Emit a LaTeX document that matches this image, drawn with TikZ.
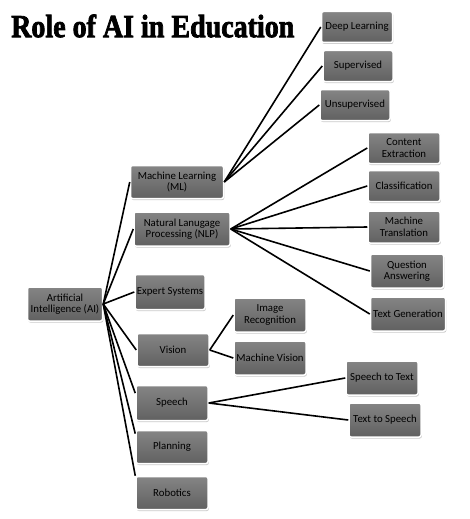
\documentclass[tikz,border=0pt]{standalone}
\usepackage{fontspec}
\usepackage{graphicx}
\setsansfont{Carlito}
\newfontfamily\titlefont[BoldFeatures={FakeBold=2.5}]{Liberation Serif}
\usetikzlibrary{positioning,
        shadows}

\begin{document}
\begin{tikzpicture}[x=1pt,y=-1pt,
        topic/.style={rectangle,draw=white,line width=1.5pt,rounded corners=2pt,
                top color=black!48,bottom color=black!62,text=black,
                font=\sffamily\fontsize{10.8}{11.5}\selectfont,align=center,
                minimum width=72pt,minimum height=33pt,inner sep=0.5pt,
                drop shadow={shadow xshift=0.8pt,shadow yshift=-1.5pt,fill=black!35,opacity=0.6}},
        link/.style={line width=1.6pt}]
            \useasboundingbox (0,0) rectangle (470,519);
            \node [anchor=west,inner sep=0pt,font=\titlefont\bfseries\fontsize{28}{30}\selectfont] (title) at (11,26) {\scalebox{1}[1.15]{Role of AI in Education}};

            \node [topic,minimum width=75pt,minimum height=34pt] (AI) at (65,304) {Artificial\\Intelligence (AI)};

            \node [topic,minimum width=93pt] (ML) at (177,182) {Machine Learning\\(ML)};
            \node [topic,minimum width=96pt,minimum height=34pt] (NLP) at (182,229) {Natural Lanugage\\Processing (NLP)};
            \node [topic,minimum width=70pt,minimum height=35pt] (ES) at (170,292) {Expert Systems};
            \node [topic] (Vis) at (173,350) {Vision};
            \node [topic,minimum height=35pt] (Sp) at (172,403) {Speech};
            \node [topic] (Plan) at (172,447) {Planning};
            \node [topic] (Rob) at (172,493) {Robotics};

            \node [topic,minimum width=71pt,minimum height=31pt] (DL) at (357,27) {Deep Learning};
            \node [topic,minimum width=70pt,minimum height=31pt] (Sup) at (358,66) {Supervised};
            \node [topic,minimum width=70pt,minimum height=31pt] (Unsup) at (355,105) {Unsupervised};

            \node [topic,minimum height=31pt] (CE) at (404,148) {Content\\Extraction};
            \node [topic,minimum height=31pt] (Cls) at (404,186) {Classification};
            \node [topic,minimum height=32pt] (MT) at (404,227) {Machine\\Translation};
            \node [topic,minimum width=73pt,minimum height=34pt] (QA) at (407,271) {Question\\Answering};
            \node [topic,minimum width=75pt,minimum height=34pt] (TG) at (408,314) {Text Generation};

            \node [topic,minimum height=34pt] (IR) at (270,315) {Image\\Recognition};
            \node [topic,minimum height=34pt] (MV) at (270,358) {Machine Vision};

            \node [topic,minimum height=34pt] (STT) at (382,378) {Speech to Text};
            \node [topic,minimum height=34pt] (TTS) at (385,420) {Text to Speech};

            \draw [link] (AI.east) -- (ML.west);
            \draw [link] (AI.east) -- (NLP.west);
            \draw [link] (AI.east) -- (ES.west);
            \draw [link] (AI.east) -- (Vis.west);
            \draw [link] (AI.east) -- (Sp.165);
            \draw [link] (AI.east) -- (Plan.160);
            \draw [link] (AI.east) -- (Rob.north west);
            \draw [link] (ML.east) -- (DL.west);
            \draw [link] (ML.east) -- (Sup.west);
            \draw [link] (ML.east) -- (Unsup.west);
            \draw [link] (NLP.east) -- (CE.west);
            \draw [link] (NLP.east) -- (Cls.west);
            \draw [link] (NLP.east) -- (MT.west);
            \draw [link] (NLP.east) -- (QA.west);
            \draw [link] (NLP.east) -- (TG.west);
            \draw [link] (Vis.east) -- (IR.west);
            \draw [link] (Vis.east) -- (MV.west);
            \draw [link] (Sp.east) -- (STT.west);
            \draw [link] (Sp.east) -- (TTS.west);
        \end{tikzpicture}
\end{document}
